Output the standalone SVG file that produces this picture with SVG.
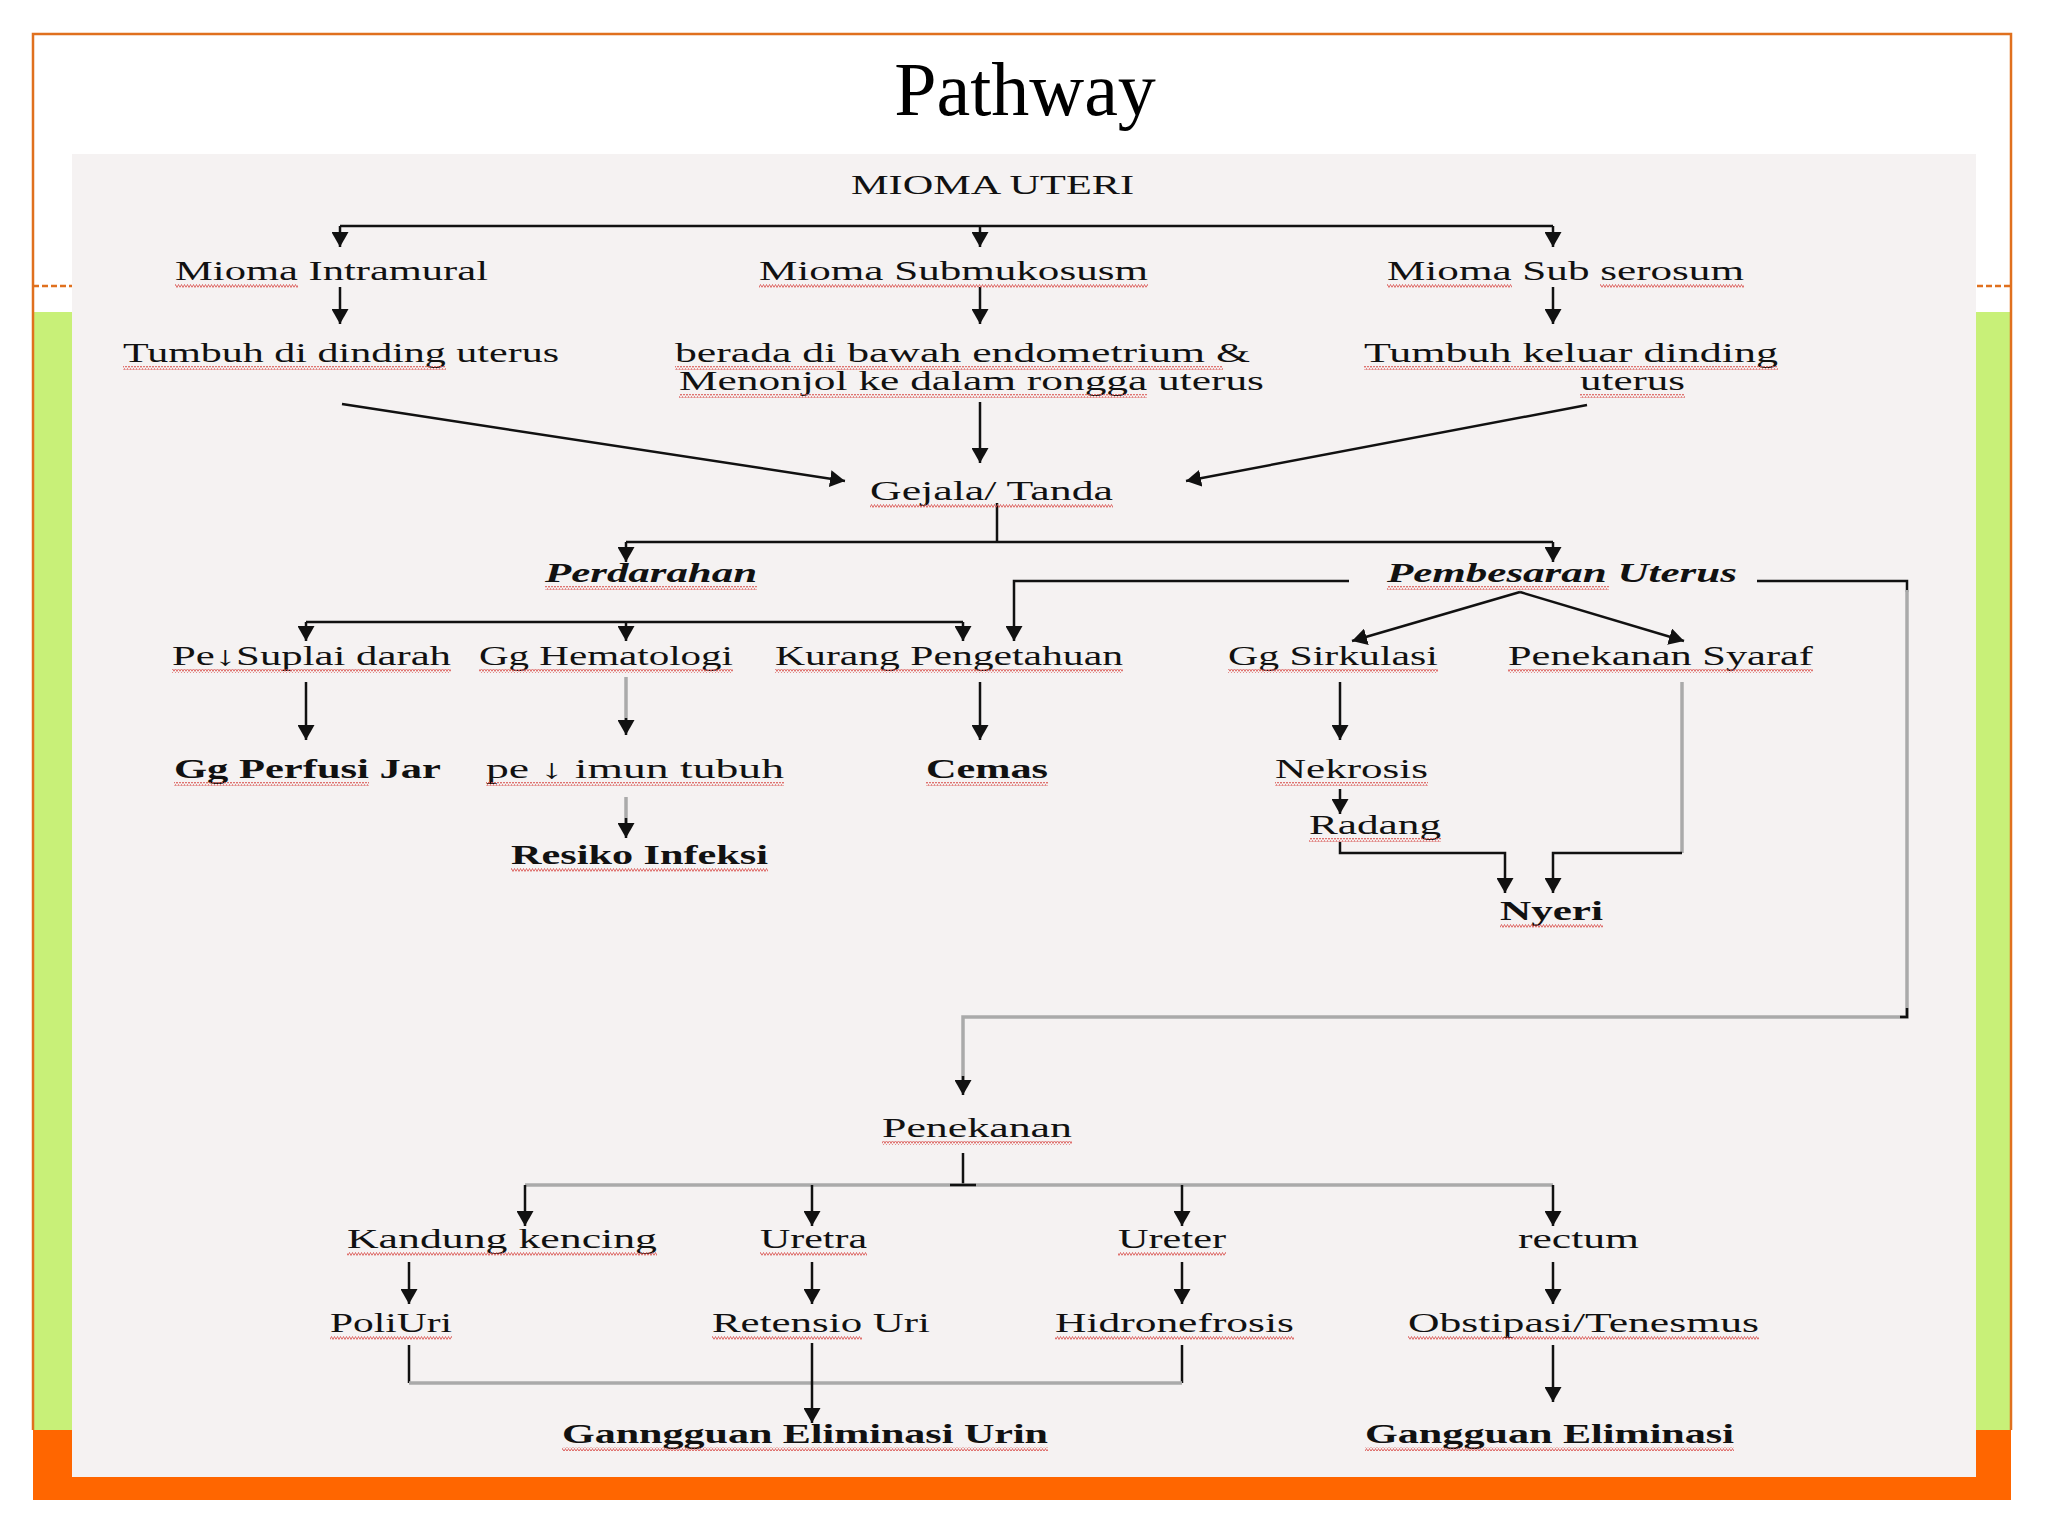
<svg xmlns="http://www.w3.org/2000/svg" width="2048" height="1536" viewBox="0 0 2048 1536">
<style>
.t{font-family:"Liberation Serif","Times New Roman",serif;font-size:27px;fill:#111}
.b{font-weight:bold}
.bi{font-weight:bold;font-style:italic}
.ln{stroke:#111;stroke-width:2.5;fill:none}
.gr{stroke:#aaaaaa;stroke-width:3.5;fill:none}
.ar{marker-end:url(#ah)}
.sq{fill:url(#wave)}
</style>
<defs>
<marker id="ah" viewBox="0 0 15 17" refX="15" refY="8.5" markerWidth="15" markerHeight="17" markerUnits="userSpaceOnUse" orient="auto">
<path d="M0,0 L15,8.5 L0,17 z" fill="#111"/>
</marker>
<pattern id="wave" width="6" height="4" patternUnits="userSpaceOnUse">
<path d="M0,3.5 L1.5,0.5 L3,3.5 L4.5,0.5 L6,3.5" fill="none" stroke="#d9534f" stroke-width="1" opacity="0.8"/>
</pattern>
</defs>
<!-- slide background -->
<rect x="0" y="0" width="2048" height="1536" fill="#ffffff"/>
<rect x="34" y="312" width="38" height="1120" fill="#c8f078"/>
<rect x="1976" y="312" width="35" height="1120" fill="#c8f078"/>
<rect x="33" y="1430" width="1978" height="70" fill="#ff6600"/>
<line x1="33" y1="286" x2="2011" y2="286" stroke="#e0701e" stroke-width="2.5" stroke-dasharray="6,3"/>
<path d="M33,1430 V34 H2011 V1430" fill="none" stroke="#e0701e" stroke-width="2.5"/>
<text x="1025" y="115" text-anchor="middle" style="font-family:'Liberation Serif','Times New Roman',serif;font-size:76px;fill:#000">Pathway</text>
<rect x="72" y="154" width="1904" height="1323" fill="#f5f2f2"/>

<g id="connectors">
<path class="ln" d="M340,226 H1553"/>
<path class="ln ar" d="M340,226 V247"/>
<path class="ln ar" d="M980,226 V247"/>
<path class="ln ar" d="M1553,226 V247"/>
<path class="ln ar" d="M340,287 V324"/>
<path class="ln ar" d="M980,287 V324"/>
<path class="ln ar" d="M1553,287 V324"/>
<path class="ln ar" d="M342,404 L845,481"/>
<path class="ln ar" d="M980,402 V463"/>
<path class="ln ar" d="M1587,405 L1186,481"/>
<path class="ln" d="M997,503 V542"/>
<path class="ln" d="M626,542 H1553"/>
<path class="ln ar" d="M626,542 V562"/>
<path class="ln ar" d="M1553,542 V562"/>
<path class="ln" d="M306,622 H963"/>
<path class="ln ar" d="M306,622 V641"/>
<path class="ln ar" d="M626,622 V641"/>
<path class="ln ar" d="M963,622 V641"/>
<path class="ln ar" d="M1349,581 H1014 V641"/>
<path class="ln" d="M1757,581 H1907 V592"/>
<path class="gr" d="M1907,590 V1017 H963 V1082"/>
<path class="ln" d="M1900,1017 H1907 V1008"/>
<path class="ln ar" d="M963,1076 V1095"/>
<path class="ln ar" d="M1520,592 L1352,641"/>
<path class="ln ar" d="M1520,592 L1684,641"/>
<path class="ln ar" d="M306,682 V740"/>
<path class="gr" d="M626,677 V724" stroke-width="2.5"/>
<path class="ln ar" d="M626,718 V735"/>
<path class="gr" d="M626,797 V824" stroke-width="2.5"/>
<path class="ln ar" d="M626,818 V838"/>
<path class="ln ar" d="M980,682 V740"/>
<path class="ln ar" d="M1340,682 V740"/>
<path class="ln ar" d="M1340,789 V814"/>
<path class="ln ar" d="M1340,842 V853 H1505 V893"/>
<path class="gr" d="M1682,682 V853"/>
<path class="ln ar" d="M1682,853 H1553 V893"/>
<path class="ln" d="M963,1153 V1185"/>
<path class="gr" d="M525,1185 H1553"/>
<path class="ln" d="M950,1185 H976"/>
<path class="ln ar" d="M525,1185 V1226"/>
<path class="ln ar" d="M812,1185 V1226"/>
<path class="ln ar" d="M1182,1185 V1226"/>
<path class="ln ar" d="M1553,1185 V1226"/>
<path class="ln ar" d="M409,1262 V1304"/>
<path class="ln ar" d="M812,1262 V1304"/>
<path class="ln ar" d="M1182,1262 V1304"/>
<path class="ln ar" d="M1553,1262 V1304"/>
<path class="ln" d="M409,1345 V1383"/>
<path class="ln" d="M1182,1345 V1383"/>
<path class="gr" d="M409,1383 H1182"/>
<path class="ln ar" d="M812,1343 V1423"/>
<path class="ln ar" d="M1553,1345 V1402"/>
</g>

<g id="n-mioma-uteri"><text class="t" x="851" y="194" textLength="283" lengthAdjust="spacingAndGlyphs">MIOMA UTERI</text></g>
<g id="n-intramural"><text class="t" x="175" y="280" textLength="313" lengthAdjust="spacingAndGlyphs">Mioma Intramural</text><rect class="sq" x="175" y="284" width="123" height="4"/></g>
<g id="n-submukosusm"><text class="t" x="759" y="280" textLength="389" lengthAdjust="spacingAndGlyphs">Mioma Submukosusm</text><rect class="sq" x="759" y="284" width="389" height="4"/></g>
<g id="n-subserosum"><text class="t" x="1387" y="280" textLength="357" lengthAdjust="spacingAndGlyphs">Mioma Sub serosum</text><rect class="sq" x="1387" y="284" width="125" height="4"/><rect class="sq" x="1600" y="284" width="144" height="4"/></g>
<g id="n-tumbuh-dinding"><text class="t" x="123" y="362" textLength="436" lengthAdjust="spacingAndGlyphs">Tumbuh di dinding uterus</text><rect class="sq" x="123" y="366" width="323" height="4"/></g>
<g id="n-berada"><text class="t" x="675" y="362" textLength="575" lengthAdjust="spacingAndGlyphs">berada di bawah endometrium &amp;</text><rect class="sq" x="675" y="366" width="548" height="4"/><text class="t" x="679" y="390" textLength="585" lengthAdjust="spacingAndGlyphs">Menonjol ke dalam rongga uterus</text><rect class="sq" x="679" y="394" width="468" height="4"/></g>
<g id="n-tumbuh-keluar"><text class="t" x="1364" y="362" textLength="414" lengthAdjust="spacingAndGlyphs">Tumbuh keluar dinding</text><rect class="sq" x="1364" y="366" width="414" height="4"/><text class="t" x="1580" y="390" textLength="105" lengthAdjust="spacingAndGlyphs">uterus</text><rect class="sq" x="1580" y="394" width="105" height="4"/></g>
<g id="n-gejala"><text class="t" x="870" y="500" textLength="243" lengthAdjust="spacingAndGlyphs">Gejala/ Tanda</text><rect class="sq" x="870" y="504" width="243" height="4"/></g>
<g id="n-perdarahan"><text class="t bi" x="545" y="582" textLength="212" lengthAdjust="spacingAndGlyphs">Perdarahan</text><rect class="sq" x="545" y="586" width="212" height="4"/></g>
<g id="n-pembesaran"><text class="t bi" x="1387" y="582" textLength="350" lengthAdjust="spacingAndGlyphs">Pembesaran Uterus</text><rect class="sq" x="1387" y="586" width="222" height="4"/></g>
<g id="n-suplai"><text class="t" x="172" y="665" textLength="279" lengthAdjust="spacingAndGlyphs">Pe↓Suplai darah</text><rect class="sq" x="172" y="669" width="279" height="4"/></g>
<g id="n-hematologi"><text class="t" x="479" y="665" textLength="254" lengthAdjust="spacingAndGlyphs">Gg Hematologi</text><rect class="sq" x="479" y="669" width="254" height="4"/></g>
<g id="n-kurang"><text class="t" x="775" y="665" textLength="348" lengthAdjust="spacingAndGlyphs">Kurang Pengetahuan</text><rect class="sq" x="775" y="669" width="348" height="4"/></g>
<g id="n-sirkulasi"><text class="t" x="1228" y="665" textLength="210" lengthAdjust="spacingAndGlyphs">Gg Sirkulasi</text><rect class="sq" x="1228" y="669" width="210" height="4"/></g>
<g id="n-syaraf"><text class="t" x="1508" y="665" textLength="305" lengthAdjust="spacingAndGlyphs">Penekanan Syaraf</text><rect class="sq" x="1508" y="669" width="305" height="4"/></g>
<g id="n-perfusi"><text class="t b" x="174" y="778" textLength="267" lengthAdjust="spacingAndGlyphs">Gg Perfusi Jar</text><rect class="sq" x="174" y="782" width="195" height="4"/></g>
<g id="n-imun"><text class="t" x="486" y="778" textLength="298" lengthAdjust="spacingAndGlyphs">pe  ↓ imun tubuh</text><rect class="sq" x="486" y="782" width="298" height="4"/></g>
<g id="n-cemas"><text class="t b" x="926" y="778" textLength="122" lengthAdjust="spacingAndGlyphs">Cemas</text><rect class="sq" x="926" y="782" width="122" height="4"/></g>
<g id="n-nekrosis"><text class="t" x="1275" y="778" textLength="153" lengthAdjust="spacingAndGlyphs">Nekrosis</text><rect class="sq" x="1275" y="782" width="153" height="4"/></g>
<g id="n-radang"><text class="t" x="1309" y="834" textLength="132" lengthAdjust="spacingAndGlyphs">Radang</text><rect class="sq" x="1309" y="838" width="132" height="4"/></g>
<g id="n-resiko"><text class="t b" x="511" y="864" textLength="257" lengthAdjust="spacingAndGlyphs">Resiko Infeksi</text><rect class="sq" x="511" y="868" width="257" height="4"/></g>
<g id="n-nyeri"><text class="t b" x="1500" y="920" textLength="103" lengthAdjust="spacingAndGlyphs">Nyeri</text><rect class="sq" x="1500" y="924" width="103" height="4"/></g>
<g id="n-penekanan"><text class="t" x="882" y="1137" textLength="190" lengthAdjust="spacingAndGlyphs">Penekanan</text><rect class="sq" x="882" y="1141" width="190" height="4"/></g>
<g id="n-kandung"><text class="t" x="347" y="1248" textLength="310" lengthAdjust="spacingAndGlyphs">Kandung kencing</text><rect class="sq" x="347" y="1252" width="310" height="4"/></g>
<g id="n-uretra"><text class="t" x="760" y="1248" textLength="107" lengthAdjust="spacingAndGlyphs">Uretra</text><rect class="sq" x="760" y="1252" width="107" height="4"/></g>
<g id="n-ureter"><text class="t" x="1118" y="1248" textLength="108" lengthAdjust="spacingAndGlyphs">Ureter</text><rect class="sq" x="1118" y="1252" width="108" height="4"/></g>
<g id="n-rectum"><text class="t" x="1518" y="1248" textLength="121" lengthAdjust="spacingAndGlyphs">rectum</text></g>
<g id="n-poliuri"><text class="t" x="330" y="1332" textLength="122" lengthAdjust="spacingAndGlyphs">PoliUri</text><rect class="sq" x="330" y="1336" width="122" height="4"/></g>
<g id="n-retensio"><text class="t" x="712" y="1332" textLength="218" lengthAdjust="spacingAndGlyphs">Retensio Uri</text><rect class="sq" x="712" y="1336" width="150" height="4"/></g>
<g id="n-hidronefrosis"><text class="t" x="1055" y="1332" textLength="239" lengthAdjust="spacingAndGlyphs">Hidronefrosis</text><rect class="sq" x="1055" y="1336" width="239" height="4"/></g>
<g id="n-obstipasi"><text class="t" x="1408" y="1332" textLength="351" lengthAdjust="spacingAndGlyphs">Obstipasi/Tenesmus</text><rect class="sq" x="1408" y="1336" width="351" height="4"/></g>
<g id="n-elim-urin"><text class="t b" x="562" y="1443" textLength="486" lengthAdjust="spacingAndGlyphs">Ganngguan Eliminasi Urin</text><rect class="sq" x="562" y="1447" width="486" height="4"/></g>
<g id="n-elim"><text class="t b" x="1365" y="1443" textLength="369" lengthAdjust="spacingAndGlyphs">Gangguan Eliminasi</text><rect class="sq" x="1365" y="1447" width="369" height="4"/></g>
</svg>
